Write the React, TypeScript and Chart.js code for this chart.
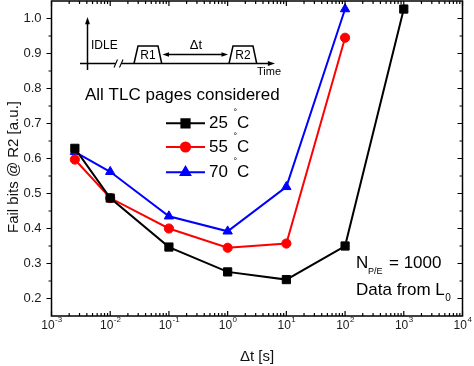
import React, { useEffect, useRef } from 'react';
import { Chart, registerables } from 'chart.js';
import { drawPoint } from 'chart.js/helpers';

Chart.register(...registerables);

// ---- data ----
const DELAYS = [0.0025, 0.01, 0.1, 1, 10, 100, 1000];
const FAIL_25C = [0.629, 0.487, 0.347, 0.276, 0.254, 0.35, 1.027];
const FAIL_55C = [0.597, 0.487, 0.4, 0.345, 0.357, 0.945];
const FAIL_70C = [0.619, 0.562, 0.435, 0.392, 0.519, 1.027];
const SERIES_TEMPS = ['25', '55', '70'];
const Y_TICKS = [0.2, 0.3, 0.4, 0.5, 0.6, 0.7, 0.8, 0.9, 1.0];
const Y_MINOR = [0.25, 0.35, 0.45, 0.55, 0.65, 0.75, 0.85, 0.95];
const X_EXPONENTS = [-3, -2, -1, 0, 1, 2, 3, 4];

const FONT = "'Liberation Sans', Arial, Helvetica, sans-serif";
const COLORS = ['#000000', '#ff0000', '#0000ff'];
const SHAPES = ['rect', 'circle', 'triangle'];
const RADII = [5.8, 4.6, 5.4];

function arrowHead(ctx: CanvasRenderingContext2D, x: number, y: number, dir: 'up' | 'right' | 'left', s = 6) {
  ctx.beginPath();
  if (dir === 'up') {
    ctx.moveTo(x, y);
    ctx.lineTo(x - s * 0.45, y + s * 1.3);
    ctx.lineTo(x + s * 0.45, y + s * 1.3);
  } else if (dir === 'right') {
    ctx.moveTo(x, y);
    ctx.lineTo(x - s * 1.3, y - s * 0.45);
    ctx.lineTo(x - s * 1.3, y + s * 0.45);
  } else {
    ctx.moveTo(x, y);
    ctx.lineTo(x + s * 1.3, y - s * 0.45);
    ctx.lineTo(x + s * 1.3, y + s * 0.45);
  }
  ctx.closePath();
  ctx.fill();
}

const decorPlugin = {
  id: 'decor',
  afterDraw(chart: any) {
    const ctx: CanvasRenderingContext2D = chart.ctx;
    const { left, right, top, bottom } = chart.chartArea;
    const xs = chart.scales.x;
    const ys = chart.scales.y;
    ctx.save();
    ctx.strokeStyle = '#000';
    ctx.fillStyle = '#000';

    // frame
    ctx.lineWidth = 1.5;
    ctx.strokeRect(left, top, right - left, bottom - top);

    // y ticks: left outward, right inward
    ctx.lineWidth = 1.2;
    const yTick = (v: number, len: number) => {
      const py = ys.getPixelForValue(v);
      ctx.beginPath();
      ctx.moveTo(left - len, py);
      ctx.lineTo(left, py);
      ctx.moveTo(right, py);
      ctx.lineTo(right - len, py);
      ctx.stroke();
    };
    Y_TICKS.forEach((v) => yTick(v, 5));
    Y_MINOR.forEach((v) => yTick(v, 3));

    // x ticks: bottom & top inward
    const xTick = (v: number, len: number) => {
      const px = xs.getPixelForValue(v);
      ctx.beginPath();
      ctx.moveTo(px, bottom);
      ctx.lineTo(px, bottom - len);
      ctx.moveTo(px, top);
      ctx.lineTo(px, top + len);
      ctx.stroke();
    };
    X_EXPONENTS.forEach((e, i) => {
      xTick(Math.pow(10, e), 5);
      if (i < X_EXPONENTS.length - 1) {
        for (let m = 2; m <= 9; m++) xTick(m * Math.pow(10, e), 3);
      }
    });

    // x tick labels with superscripts
    ctx.fillStyle = '#1a1a1a';
    ctx.textBaseline = 'alphabetic';
    ctx.textAlign = 'left';
    X_EXPONENTS.forEach((e) => {
      const px = xs.getPixelForValue(Math.pow(10, e));
      ctx.font = `12px ${FONT}`;
      const w1 = ctx.measureText('10').width;
      ctx.font = `8px ${FONT}`;
      const sup = String(e);
      const w2 = ctx.measureText(sup).width;
      const x0 = px - (w1 + w2) / 2;
      ctx.font = `12px ${FONT}`;
      ctx.fillText('10', x0, bottom + 13);
      ctx.font = `8px ${FONT}`;
      ctx.fillText(sup, x0 + w1 + 0.5, bottom + 5.5);
    });

    // axis titles
    ctx.fillStyle = '#111';
    ctx.font = `15px ${FONT}`;
    ctx.textAlign = 'center';
    ctx.textBaseline = 'middle';
    ctx.fillText('\u0394t [s]', (left + right) / 2, bottom + 41);
    ctx.save();
    ctx.translate(14, 167);
    ctx.rotate(-Math.PI / 2);
    ctx.fillText('Fail bits @ R2 [a.u.]', 0, 0);
    ctx.restore();

    // ---- inset timing diagram ----
    ctx.fillStyle = '#000';
    ctx.strokeStyle = '#000';
    ctx.lineWidth = 1.5;
    const baseY = 63.5;
    ctx.beginPath();
    ctx.moveTo(87.5, 70);
    ctx.lineTo(87.5, 24);
    ctx.stroke();
    arrowHead(ctx, 87.5, 17, 'up', 5.5);
    ctx.beginPath();
    ctx.moveTo(80, baseY);
    ctx.lineTo(115.5, baseY);
    ctx.moveTo(121.5, baseY);
    ctx.lineTo(268, baseY);
    ctx.stroke();
    arrowHead(ctx, 275, baseY, 'right', 5.5);
    ctx.lineWidth = 1.1;
    ctx.beginPath();
    ctx.moveTo(114, baseY + 4);
    ctx.lineTo(117.5, baseY - 4);
    ctx.moveTo(119.5, baseY + 4);
    ctx.lineTo(123, baseY - 4);
    ctx.stroke();
    ctx.lineWidth = 1.5;
    const trap = (x0: number) => {
      ctx.beginPath();
      ctx.moveTo(x0, baseY);
      ctx.lineTo(x0 + 4, 46);
      ctx.lineTo(x0 + 24, 46);
      ctx.lineTo(x0 + 27.7, baseY);
      ctx.stroke();
    };
    trap(134);
    trap(229);
    ctx.beginPath();
    ctx.moveTo(168, 54.5);
    ctx.lineTo(222, 54.5);
    ctx.stroke();
    arrowHead(ctx, 162.5, 54.5, 'left', 5);
    arrowHead(ctx, 228, 54.5, 'right', 5);
    ctx.font = `12px ${FONT}`;
    ctx.textAlign = 'left';
    ctx.textBaseline = 'middle';
    ctx.fillText('IDLE', 91, 45.5);
    ctx.textAlign = 'center';
    ctx.fillText('R1', 148, 55.5);
    ctx.fillText('R2', 243, 55.5);
    ctx.font = `13px ${FONT}`;
    ctx.fillText('\u0394t', 196, 45);
    ctx.font = `11px ${FONT}`;
    ctx.textAlign = 'left';
    ctx.fillText('Time', 257, 72);

    // ---- legend ----
    ctx.font = `17px ${FONT}`;
    ctx.textAlign = 'left';
    ctx.fillText('All TLC pages considered', 85, 95.5);
    const legY = [123.3, 147, 172.3];
    chart.data.datasets.forEach((ds: any, i: number) => {
      const y = legY[i];
      ctx.strokeStyle = ds.borderColor;
      ctx.fillStyle = ds.backgroundColor;
      ctx.lineWidth = 2;
      ctx.beginPath();
      ctx.moveTo(166, y);
      ctx.lineTo(205, y);
      ctx.stroke();
      drawPoint(ctx, { pointStyle: ds.pointStyle, radius: ds.pointRadius, borderWidth: 1, rotation: 0 } as any, 185.5, y);
      ctx.fillStyle = '#000';
      ctx.font = `17px ${FONT}`;
      ctx.textAlign = 'left';
      ctx.textBaseline = 'middle';
      ctx.fillText(SERIES_TEMPS[i], 209, y);
      ctx.font = `9px ${FONT}`;
      ctx.fillText('\u00B0', 233.5, y - 10.5);
      ctx.font = `17px ${FONT}`;
      ctx.fillText('C', 237, y);
    });

    // ---- annotations ----
    ctx.fillStyle = '#000';
    ctx.font = `17px ${FONT}`;
    ctx.textBaseline = 'middle';
    ctx.fillText('N', 356, 263.5);
    ctx.font = `9px ${FONT}`;
    ctx.fillText('P/E', 368, 272);
    ctx.font = `17px ${FONT}`;
    ctx.fillText('= 1000', 389, 263.5);
    const dataTxt = 'Data from L';
    ctx.fillText(dataTxt, 356, 290.5);
    const wD = ctx.measureText(dataTxt).width;
    ctx.font = `10px ${FONT}`;
    ctx.fillText('0', 356 + wD + 0.5, 298.5);

    ctx.restore();
  },
};

export default function App() {
  const ref = useRef<HTMLCanvasElement | null>(null);

  useEffect(() => {
    if (!ref.current) return;
    const series = [FAIL_25C, FAIL_55C, FAIL_70C];
    const datasets = series.map((vals, i) => ({
      label: `${SERIES_TEMPS[i]} \u00B0C`,
      data: vals.map((v, k) => ({ x: DELAYS[k], y: v })),
      borderColor: COLORS[i],
      backgroundColor: COLORS[i],
      pointBackgroundColor: COLORS[i],
      pointBorderColor: COLORS[i],
      pointStyle: SHAPES[i],
      pointRadius: RADII[i],
      pointBorderWidth: 1,
      borderWidth: 2,
      tension: 0,
      clip: false as any,
    }));
    const chart = new Chart(ref.current, {
      type: 'line',
      data: { datasets },
      options: {
        animation: false,
        responsive: false,
        devicePixelRatio: 1,
        layout: { autoPadding: false, padding: { left: 0, right: 11.5, top: 1, bottom: 0 } },
        plugins: { legend: { display: false }, tooltip: { enabled: false }, title: { display: false } },
        scales: {
          x: {
            type: 'logarithmic',
            min: 0.001,
            max: 10000,
            grid: { display: false, drawTicks: false },
            border: { display: false },
            ticks: { display: false },
            afterFit: (s: any) => {
              s.height = 50;
              s.paddingLeft = 0;
              s.paddingRight = 0;
            },
          },
          y: {
            type: 'linear',
            min: 0.15,
            max: 1.05,
            grid: { display: false, drawTicks: false },
            border: { display: false },
            afterBuildTicks: (s: any) => {
              s.ticks = Y_TICKS.map((v) => ({ value: v }));
            },
            ticks: {
              padding: 10,
              color: '#1a1a1a',
              font: { family: FONT, size: 13 },
              callback: (v: any) => Number(v).toFixed(1),
            },
            afterFit: (s: any) => {
              s.width = 51.5;
              s.paddingTop = 0;
              s.paddingBottom = 0;
            },
          },
        },
      } as any,
      plugins: [decorPlugin],
    });
    return () => chart.destroy();
  }, []);

  return (
    <div style={{ position: 'fixed', left: 0, top: 0, width: 474, height: 366, background: '#fff' }}>
      <canvas ref={ref} width={474} height={366} style={{ display: 'block', width: 474, height: 366 }} />
    </div>
  );
}
